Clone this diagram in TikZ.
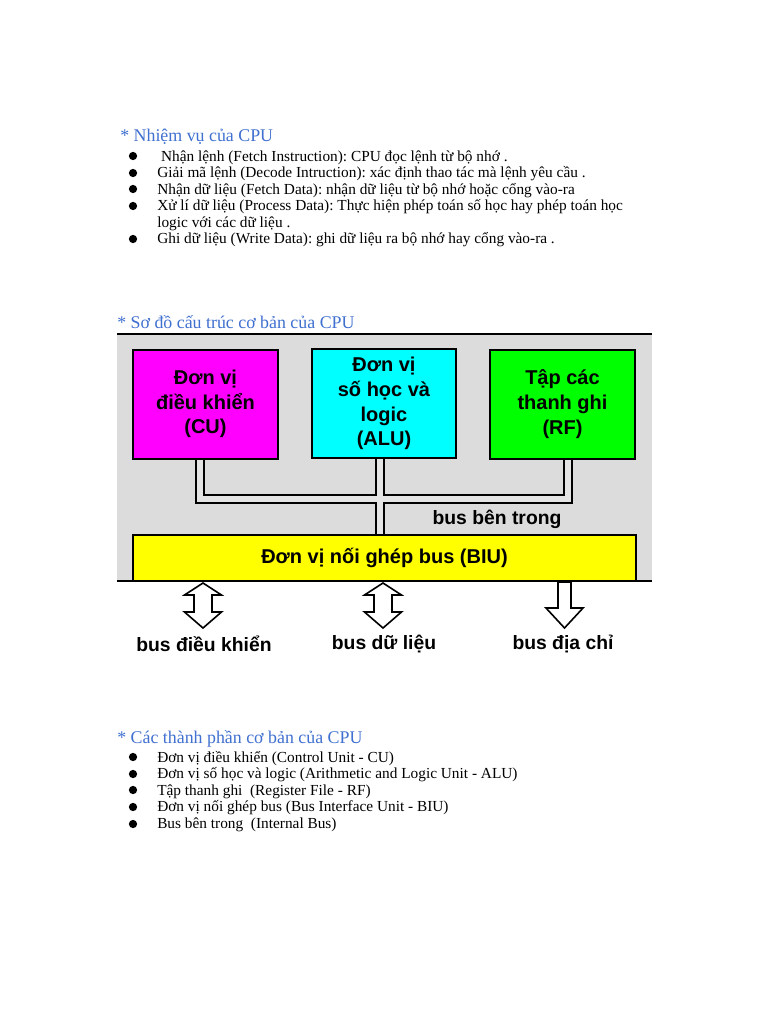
\documentclass[tikz,border=0pt]{standalone}
\usepackage{fontspec}
\setmainfont{Liberation Serif}
\newfontfamily\diagfont{Liberation Sans}[BoldFont={Liberation Sans Bold}]
\definecolor{headblue}{RGB}{64,112,208}
\definecolor{panelgray}{RGB}{220,220,220}
\definecolor{busgray}{RGB}{228,228,228}
\definecolor{cumag}{RGB}{255,0,255}
\definecolor{alucyan}{RGB}{0,255,255}
\definecolor{rfgreen}{RGB}{0,255,0}
\definecolor{biuyellow}{RGB}{255,255,0}
\frenchspacing
\tikzset{
  heading/.style={anchor=base west, inner sep=0, text=headblue, font=\fontsize{13.4}{15}\selectfont},
  item/.style={anchor=base west, inner sep=0, font=\fontsize{11.5}{13}\selectfont},
  dot/.style={circle, fill=black, inner sep=0, minimum size=6.2pt},
  unit/.style={draw=black, line width=1.5pt, inner sep=0, align=center,
    font=\diagfont\bfseries\fontsize{15}{18.6}\selectfont},
  blabel/.style={inner sep=0, font=\diagfont\bfseries\fontsize{14.5}{17}\selectfont},
  busout/.style={draw=black, line width=7.5pt, line join=miter},
  busin/.style={draw=busgray, line width=4.5pt, line join=miter},
  blockarrow/.style={draw=black, line width=1.2pt, fill=white, line join=miter}
}
\begin{document}
\begin{tikzpicture}[x=0.75pt, y=-0.75pt]
\useasboundingbox[fill=white] (0,0) rectangle (768,1024);

% ---- Section 1
\node[heading] (h1) at (120,142) {* Nhiệm vụ của CPU};
\foreach \yy/\nm in {156/d1,173/d2,189/d3,206/d4,239/d5}
  \node[dot] (\nm) at (133,\yy) {};
\node[item] (t1) at (157,161) {\ Nhận lệnh (Fetch Instruction): CPU đọc lệnh từ bộ nhớ .};
\node[item] (t2) at (157,177.5) {Giải mã lệnh (Decode Intruction): xác định thao tác mà lệnh yêu cầu .};
\node[item] (t3) at (157,194) {Nhận dữ liệu (Fetch Data): nhận dữ liệu từ bộ nhớ hoặc cổng vào-ra};
\node[item] (t4) at (157,210.5) {Xử lí dữ liệu (Process Data): Thực hiện phép toán số học hay phép toán học};
\node[item] (t4b) at (157,227) {logic với các dữ liệu .};
\node[item] (t5) at (157,243.5) {Ghi dữ liệu (Write Data): ghi dữ liệu ra bộ nhớ hay cổng vào-ra .};

% ---- Section 2
\node[heading] (h2) at (117,328) {* Sơ đồ cấu trúc cơ bản của CPU};
\fill[panelgray] (117,334) rectangle (652,581);
\draw[line width=1.8pt] (117,334) -- (652,334);

% internal bus
\coordinate (cub) at (200,458);
\coordinate (alub) at (380,458);
\coordinate (rfb) at (568,458);
\coordinate (biut) at (380,536);
\path[busout] (cub) -- (200,499) -- (568,499) -- (rfb);
\path[busout] (alub) -- (biut);
\path[busin] (cub) -- (200,499) -- (568,499) -- (rfb);
\path[busin] (alub) -- (biut);

\node[unit, fill=cumag, minimum width=108.75pt, minimum height=81.75pt] (cu) at (205.5,404)
  {Đơn vị\\điều khiển\\(CU)};
\node[unit, fill=alucyan, minimum width=108pt, minimum height=81.75pt] (alu) at (384,403.5)
  {Đơn vị\\số học và\\logic\\(ALU)};
\node[unit, fill=rfgreen, minimum width=108.75pt, minimum height=81.75pt] (rf) at (562.5,404)
  {Tập các\\thanh ghi\\(RF)};
\node[blabel] (ibus) at (497,519) {bus bên trong};
\node[unit, fill=biuyellow, minimum width=377.25pt, minimum height=34.5pt] (biu) at (384.5,558)
  {Đơn vị nối ghép bus (BIU)};
\draw[line width=1.5pt] (117,581) -- (652,581);

% external buses
\node[blabel] (cbus) at (204,644) {bus điều khiển};
\node[blabel] (dbus) at (384,644) {bus dữ liệu};
\node[blabel] (abus) at (563,644) {bus địa chỉ};
\foreach \cx in {203,383}{
  \draw[blockarrow] (\cx,583) -- (\cx+18.5,595) -- (\cx+9,595) -- (\cx+9,612) -- (\cx+18.5,612)
    -- (\cx,628) -- (\cx-18.5,612) -- (\cx-9,612) -- (\cx-9,595) -- (\cx-18.5,595) -- cycle;
}
\draw[blockarrow] (558,582) -- (571,582) -- (571,608) -- (583,608) -- (564.5,628)
  -- (546,608) -- (558,608) -- cycle;

% ---- Section 3
\node[heading] (h3) at (117,743) {* Các thành phần cơ bản của CPU};
\foreach \yy/\nm in {757/e1,774/e2,790/e3,807/e4,824/e5}
  \node[dot] (\nm) at (133,\yy) {};
\node[item] (s1) at (157,762) {Đơn vị điều khiển (Control Unit - CU)};
\node[item] (s2) at (157,778.5) {Đơn vị số học và logic (Arithmetic and Logic Unit - ALU)};
\node[item] (s3) at (157,795) {Tập thanh ghi\ \ (Register File - RF)};
\node[item] (s4) at (157,811.5) {Đơn vị nối ghép bus (Bus Interface Unit - BIU)};
\node[item] (s5) at (157,828) {Bus bên trong\ \ (Internal Bus)};
\end{tikzpicture}
\end{document}
